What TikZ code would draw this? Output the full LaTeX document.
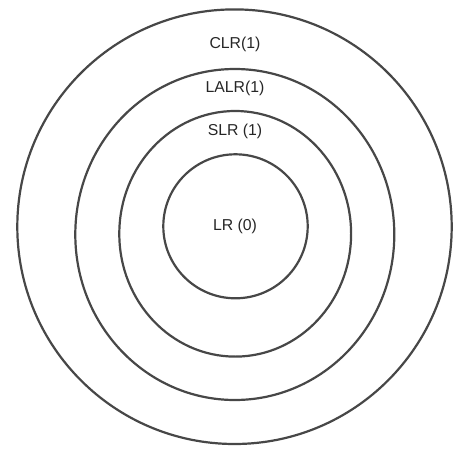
\documentclass[tikz,border=0pt]{standalone}
\usepackage{fontspec}
\setmainfont{Liberation Sans}
\usetikzlibrary{shapes.geometric}
\begin{document}
\begin{tikzpicture}[x=1pt,y=-1pt,
  ring/.style={draw=black!72, line width=2.2pt, ellipse, inner sep=0pt, fill=none},
  lbl/.style={font=\fontsize{15.8}{19}\selectfont, text=black!85, inner sep=0pt}]
\useasboundingbox (0,0) rectangle (474,455);
\node[ring, minimum width=434.4pt, minimum height=434.6pt] (clr) at (234.5,226.7) {};
\node[ring, minimum width=319pt, minimum height=331pt] (lalr) at (234.8,234.5) {};
\node[ring, minimum width=231.8pt, minimum height=245.6pt] (slr) at (235.2,233.8) {};
\node[ring, minimum width=144.4pt, minimum height=144pt] (lr) at (235.5,226.3) {};
\node[lbl] (tclr) at (235,44.3) {CLR(1)};
\node[lbl] (tlalr) at (235,88) {LALR(1)};
\node[lbl] (tslr) at (235,131.7) {SLR (1)};
\node[lbl] (tlr) at (235,226) {LR (0)};
\end{tikzpicture}
\end{document}
